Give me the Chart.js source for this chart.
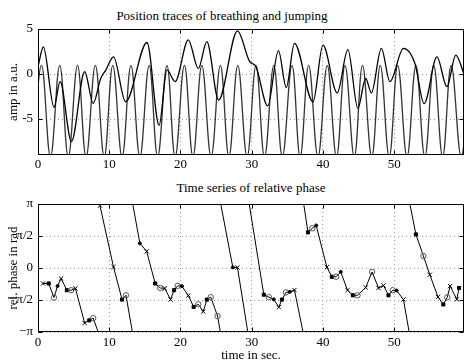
<!DOCTYPE html>
<html lang="en">
<head>
<meta charset="UTF-8">
<title>Breathing and jumping</title>
<script src="https://cdn.jsdelivr.net/npm/chart.js@4.4.1/dist/chart.umd.min.js"></script>
<style>
  body { margin: 0; background: #fff; }
  #wrap { position: relative; width: 474px; height: 364px; font-family: "Liberation Serif", serif; color: #000; }
  .title { position: absolute; font-size: 13px; line-height: 15px; white-space: nowrap; transform: translateX(-50%); }
  canvas { position: absolute; left: 0; }
</style>
</head>
<body>
<div id="wrap">
  <div class="title" style="left:222px; top:8px">Position traces of breathing and jumping</div>
  <div class="title" style="left:251px; top:180px">Time series of relative phase</div>
  <canvas id="traces" width="474" height="182" style="top:0"></canvas>
  <canvas id="phase" width="474" height="182" style="top:182px"></canvas>
</div>

<script>
// top panel: breathing (black) and jumping (grey) position traces
const breathT = [0, 0.75, 2.25, 3.1, 4.7, 6.55, 7.75, 8.8, 9.5, 10.6, 12.3, 15.3, 17.0, 18.1, 19.25, 21.1, 22.5, 23.7, 25.35, 28.0, 29.7, 30.6, 32.25, 33.75, 34.85, 36.0, 38.6, 40.0, 42.0, 43.5, 44.9, 46.0, 46.8, 48.2, 49.4, 51.3, 52.9, 54.2, 56.0, 57.4, 58.65, 59.8];
const breathY = [0.8, 3.0, -3.7, -0.85, -7.5, 0.25, -3.25, -0.5, 0.4, 1.9, -3.1, 3.5, -5.7, 0.45, -0.85, 3.8, 0.6, 3.6, -2.9, 4.8, 1.4, 0.8, -3.55, 2.6, -1.5, 3.4, -3.1, 3.2, -2.1, 2.7, -3.8, -0.5, -2.1, 2.85, -0.85, 2.85, 1.2, -3.3, 1.9, -1.4, 2.1, 0.0];

const jumpT = [-0.75, 0.5, 1.75, 3.05, 4.25, 5.55, 6.75, 8.05, 9.3, 10.5, 11.8, 13.05, 14.3, 15.6, 16.8, 18.1, 19.25, 20.55, 21.75, 23.0, 24.3, 25.6, 26.8, 28.05, 29.35, 30.6, 31.8, 33.1, 34.3, 35.65, 36.8, 38.0, 39.3, 40.6, 41.9, 43.1, 44.4, 45.55, 46.85, 48.05, 49.3, 50.5, 51.8, 53.05, 54.3, 55.55, 56.8, 58.0, 59.4, 60.6];
const jumpY = [-9.2, 0.95, -9.2, 0.95, -9.2, 0.95, -9.2, 0.95, -9.2, 0.95, -9.2, 0.95, -9.2, 0.95, -9.2, 0.95, -9.2, 0.95, -9.2, 0.95, -9.2, 0.95, -9.2, 0.95, -9.2, 0.95, -9.2, 0.95, -9.2, 0.95, -9.2, 0.95, -9.2, 0.95, -9.2, 0.95, -9.2, 0.95, -9.2, 0.95, -9.2, 0.95, -9.2, 0.95, -9.2, 0.95, -9.2, 0.95, -9.2, 0.95];

// bottom panel: relative phase, null = wrap gap
// marks: x = cross, s = square, o = circle, d = dot, n = none
const phaseT = [0.7, 1.5, 2.25, 2.75, 3.25, 4.05, 4.65, 5.25, 6.55, 7.2, 7.75, 8.45, 8.55,
  8.7, 10.6, 11.8, 12.35, 13.25, 13.28,
  13.3, 14.3, 15.25, 16.45, 17.15, 17.8, 18.6, 19.1, 19.6, 20.2, 21.1, 21.85, 22.5, 23.2, 23.7, 24.25, 25.2, 25.6, 25.62,
  25.65, 27.35, 28.0, 29.45, 29.55,
  29.65, 31.7, 32.4, 33.1, 33.8, 34.25, 34.8, 35.35, 36.0, 37.2, 37.25,
  37.3, 37.9, 38.5, 39.05, 40.55, 41.25, 41.85, 42.5, 43.45, 44.2, 44.85, 46.0, 46.9, 47.8, 48.5, 49.2, 49.8, 50.35, 51.3, 52.1, 52.15,
  52.2, 53.05, 54.1, 55.0, 56.15, 56.9, 57.45, 57.85, 58.8, 59.1];
const phaseY = [-0.76, -0.76, -1.45, -0.88, -0.52, -1.09, -1.09, -1.0, -2.7, -2.57, -2.46, -3.1416, null,
  3.06, 0.05, -1.55, -1.34, -3.1416, null,
  3.1416, 1.21, 0.82, -0.76, -0.98, -1.0, -1.55, -1.09, -0.88, -0.89, -1.35, -1.91, -1.78, -2.14, -1.55, -1.43, -2.36, -3.1416, null,
  3.1416, 0.03, 0.03, -3.1416, null,
  3.1416, -1.31, -1.43, -1.54, -1.92, -1.55, -1.2, -1.17, -1.08, -3.1416, null,
  3.1416, 1.75, 1.95, 2.09, 0.04, -0.43, -0.43, -0.19, -1.09, -1.34, -1.34, -0.96, -0.19, -0.98, -0.86, -1.34, -1.09, -1.11, -1.55, -3.1416, null,
  3.1416, 1.65, 0.59, -0.33, -1.42, -1.79, -1.44, -0.89, -1.54, -0.98];
const phaseMark = ['x', 's', 'o', 'd', 'x', 's', 'o', 'x', 'x', 's', 'o', 'n', 'n',
  'x', 'x', 's', 'o', 'n', 'n',
  'n', 'd', 'x', 's', 'o', 'x', 'x', 's', 'o', 'd', 'x', 's', 'o', 'x', 's', 'o', 'o', 'n', 'n',
  'n', 'd', 'x', 'n', 'n',
  'n', 's', 'o', 'd', 'x', 's', 'o', 'd', 'x', 'n', 'n',
  'n', 's', 'o', 'd', 'x', 's', 'o', 'd', 'x', 's', 'o', 'x', 'o', 'x', 'x', 's', 'o', 'd', 'x', 'n', 'n',
  'n', 's', 'o', 'x', 'x', 's', 'o', 'x', 'x', 's'];

const timeTicks = [0, 10, 20, 30, 40, 50];
const ampTicks = [-5, 0, 5];
const phaseTicks = [-Math.PI, -Math.PI / 2, 0, Math.PI / 2, Math.PI];
const phaseTickLabels = ['\u2212\u03c0', '\u2212\u03c0/2', '0', '\u03c0/2', '\u03c0'];

const serif = { family: 'Liberation Serif', size: 13 };

// box round the plot area with short inward ticks, matlab style
const frame = {
  id: 'frame',
  afterDatasetsDraw(chart) {
    const { ctx, chartArea: a, scales: { x, y } } = chart;
    const l = Math.round(a.left) + 0.5, r = Math.round(a.right) - 0.5;
    const t = Math.round(a.top) + 0.5, b = Math.round(a.bottom) - 0.5;
    ctx.save();
    ctx.strokeStyle = '#000';
    ctx.lineWidth = 1;
    ctx.strokeRect(l, t, r - l, b - t);
    ctx.beginPath();
    x.ticks.forEach(tk => {
      const px = Math.round(x.getPixelForValue(tk.value)) + 0.5;
      ctx.moveTo(px, b); ctx.lineTo(px, b - 4);
      ctx.moveTo(px, t); ctx.lineTo(px, t + 4);
    });
    y.ticks.forEach(tk => {
      const py = Math.round(y.getPixelForValue(tk.value)) + 0.5;
      ctx.moveTo(l, py); ctx.lineTo(l + 4, py);
      ctx.moveTo(r, py); ctx.lineTo(r - 4, py);
    });
    ctx.stroke();
    ctx.restore();
  }
};

function xAxis(height, padding, title) {
  return {
    type: 'linear', min: 0, max: 59.8,
    afterBuildTicks: s => { s.ticks = timeTicks.map(v => ({ value: v })); },
    afterFit: s => { s.height = height; },
    grid: { color: '#999', drawTicks: false },
    border: { display: false, dash: [1, 3] },
    ticks: { font: serif, color: '#000', padding: padding, maxRotation: 0 },
    title: title ? { display: true, text: title, font: serif, color: '#000', padding: { top: 0, bottom: 1 } } : { display: false }
  };
}

function yAxis(min, max, ticks, title, labels) {
  return {
    min: min, max: max,
    afterBuildTicks: s => { s.ticks = ticks.map(v => ({ value: v })); },
    afterFit: s => { s.width = 38; },
    grid: { color: '#999', drawTicks: false },
    border: { display: false, dash: [1, 3] },
    ticks: {
      font: serif, color: '#000', padding: 5,
      callback: labels ? (v, i) => labels[i] : v => v
    },
    title: { display: true, text: title, font: serif, color: '#000', padding: { top: 6, bottom: 0 } }
  };
}

new Chart(document.getElementById('traces'), {
  type: 'line',
  data: {
    datasets: [
      {
        data: breathT.map((t, i) => ({ x: t, y: breathY[i] })),
        borderColor: '#000', borderWidth: 1.3, pointRadius: 0,
        cubicInterpolationMode: 'monotone'
      },
      {
        data: jumpT.map((t, i) => ({ x: t, y: jumpY[i] })),
        borderColor: '#333', borderWidth: 1.3, pointRadius: 0,
        tension: 0.4
      }
    ]
  },
  options: {
    responsive: false,
    animation: false,
    layout: { padding: { top: 29, right: 10, left: 0, bottom: 0 } },
    elements: { line: { capBezierPoints: false } },
    plugins: { legend: { display: false }, tooltip: { enabled: false } },
    scales: {
      x: xAxis(27, 2, null),
      y: yAxis(-9, 5, ampTicks, 'amp in a.u.', null)
    }
  },
  plugins: [frame]
});

const markRadius = { x: 3, s: 2.2, o: 2.7, d: 1.5, n: 0 };
const markStyle = { x: 'crossRot', s: 'rect', o: 'circle', d: 'circle', n: 'circle' };

new Chart(document.getElementById('phase'), {
  type: 'line',
  data: {
    datasets: [{
      data: phaseT.map((t, i) => ({ x: t, y: phaseY[i] })),
      borderColor: '#000', borderWidth: 1,
      spanGaps: false,
      pointStyle: c => markStyle[phaseMark[c.dataIndex]],
      pointRadius: c => markRadius[phaseMark[c.dataIndex]],
      pointBorderWidth: 1,
      pointBorderColor: c => phaseMark[c.dataIndex] === 'o' ? '#555' : '#000',
      pointBackgroundColor: c => phaseMark[c.dataIndex] === 'o' ? 'rgba(0,0,0,0)' : '#000'
    }]
  },
  options: {
    responsive: false,
    animation: false,
    layout: { padding: { top: 22, right: 10, left: 0, bottom: 0 } },
    plugins: { legend: { display: false }, tooltip: { enabled: false } },
    scales: {
      x: xAxis(32, 3, 'time in sec.'),
      y: yAxis(-Math.PI, Math.PI, phaseTicks, 'rel. phase in rad', phaseTickLabels)
    }
  },
  plugins: [frame]
});
</script>
</body>
</html>
